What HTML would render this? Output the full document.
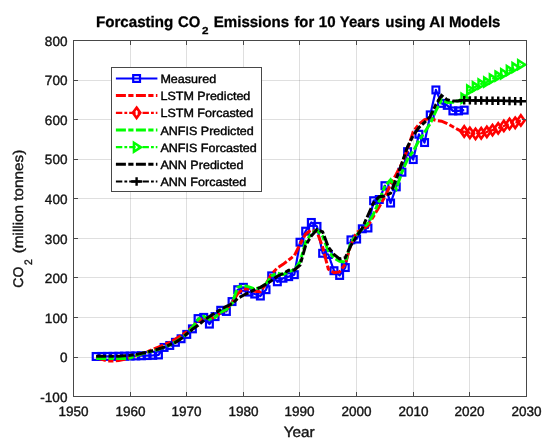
<!DOCTYPE html>
<html><head><meta charset="utf-8"><title>Forcasting CO2 Emissions</title>
<style>html,body{margin:0;padding:0;background:#fff;width:550px;height:447px;overflow:hidden}svg{display:block;filter:blur(0.4px)}text{text-rendering:geometricPrecision}</style>
</head><body>
<svg width="550" height="447" viewBox="0 0 550 447">
<defs><clipPath id="cp"><rect x="73.5" y="40.5" width="453.0" height="356.0"/></clipPath></defs>
<g stroke="#262626" stroke-opacity="0.15" stroke-width="1">
<line x1="130.5" y1="40.5" x2="130.5" y2="396.5"/>
<line x1="186.5" y1="40.5" x2="186.5" y2="396.5"/>
<line x1="243.5" y1="40.5" x2="243.5" y2="396.5"/>
<line x1="299.5" y1="40.5" x2="299.5" y2="396.5"/>
<line x1="356.5" y1="40.5" x2="356.5" y2="396.5"/>
<line x1="413.5" y1="40.5" x2="413.5" y2="396.5"/>
<line x1="469.5" y1="40.5" x2="469.5" y2="396.5"/>
<line x1="73.5" y1="357.5" x2="526.5" y2="357.5"/>
<line x1="73.5" y1="317.5" x2="526.5" y2="317.5"/>
<line x1="73.5" y1="277.5" x2="526.5" y2="277.5"/>
<line x1="73.5" y1="238.5" x2="526.5" y2="238.5"/>
<line x1="73.5" y1="198.5" x2="526.5" y2="198.5"/>
<line x1="73.5" y1="159.5" x2="526.5" y2="159.5"/>
<line x1="73.5" y1="119.5" x2="526.5" y2="119.5"/>
<line x1="73.5" y1="80.5" x2="526.5" y2="80.5"/>
</g>
<g clip-path="url(#cp)" fill="none" stroke-linejoin="round">
<polyline points="96.15,356.47 101.81,356.43 107.47,356.39 113.14,356.35 118.80,356.27 124.46,356.15 130.12,356.03 135.79,355.92 141.45,355.76 147.11,355.56 152.78,355.36 158.44,354.97 164.10,347.45 169.76,345.47 175.43,342.31 181.09,338.75 186.75,334.40 192.41,328.86 198.07,318.58 203.74,317.39 209.40,324.11 215.06,316.60 220.72,310.27 226.39,311.46 232.05,301.57 237.71,289.70 243.38,287.33 249.04,292.07 254.70,294.05 260.36,296.03 266.02,289.70 271.69,275.86 277.35,281.79 283.01,278.23 288.68,276.65 294.34,274.67 300.00,242.23 305.66,231.16 311.32,222.46 316.99,226.41 322.65,253.31 328.31,254.50 333.98,270.71 339.64,275.46 345.30,267.55 350.96,239.86 356.62,239.07 362.29,228.78 367.95,227.99 373.61,200.70 379.27,199.51 384.94,185.67 390.60,203.07 396.26,186.86 401.93,172.22 407.59,151.65 413.25,159.56 418.91,134.25 424.57,142.55 430.24,114.86 435.90,89.94 441.56,103.39 447.23,105.37 452.89,110.91 458.55,110.91 464.21,110.12" stroke="#0000ff" stroke-width="2.2"/>
</g>
<g fill="none">
<rect x="92.75" y="353.07" width="6.80" height="6.80" fill="none" stroke="#0000ff" stroke-width="2.2"/>
<rect x="98.41" y="353.03" width="6.80" height="6.80" fill="none" stroke="#0000ff" stroke-width="2.2"/>
<rect x="104.07" y="352.99" width="6.80" height="6.80" fill="none" stroke="#0000ff" stroke-width="2.2"/>
<rect x="109.74" y="352.95" width="6.80" height="6.80" fill="none" stroke="#0000ff" stroke-width="2.2"/>
<rect x="115.40" y="352.87" width="6.80" height="6.80" fill="none" stroke="#0000ff" stroke-width="2.2"/>
<rect x="121.06" y="352.75" width="6.80" height="6.80" fill="none" stroke="#0000ff" stroke-width="2.2"/>
<rect x="126.72" y="352.63" width="6.80" height="6.80" fill="none" stroke="#0000ff" stroke-width="2.2"/>
<rect x="132.39" y="352.52" width="6.80" height="6.80" fill="none" stroke="#0000ff" stroke-width="2.2"/>
<rect x="138.05" y="352.36" width="6.80" height="6.80" fill="none" stroke="#0000ff" stroke-width="2.2"/>
<rect x="143.71" y="352.16" width="6.80" height="6.80" fill="none" stroke="#0000ff" stroke-width="2.2"/>
<rect x="149.38" y="351.96" width="6.80" height="6.80" fill="none" stroke="#0000ff" stroke-width="2.2"/>
<rect x="155.04" y="351.57" width="6.80" height="6.80" fill="none" stroke="#0000ff" stroke-width="2.2"/>
<rect x="160.70" y="344.05" width="6.80" height="6.80" fill="none" stroke="#0000ff" stroke-width="2.2"/>
<rect x="166.36" y="342.07" width="6.80" height="6.80" fill="none" stroke="#0000ff" stroke-width="2.2"/>
<rect x="172.03" y="338.91" width="6.80" height="6.80" fill="none" stroke="#0000ff" stroke-width="2.2"/>
<rect x="177.69" y="335.35" width="6.80" height="6.80" fill="none" stroke="#0000ff" stroke-width="2.2"/>
<rect x="183.35" y="331.00" width="6.80" height="6.80" fill="none" stroke="#0000ff" stroke-width="2.2"/>
<rect x="189.01" y="325.46" width="6.80" height="6.80" fill="none" stroke="#0000ff" stroke-width="2.2"/>
<rect x="194.67" y="315.18" width="6.80" height="6.80" fill="none" stroke="#0000ff" stroke-width="2.2"/>
<rect x="200.34" y="313.99" width="6.80" height="6.80" fill="none" stroke="#0000ff" stroke-width="2.2"/>
<rect x="206.00" y="320.71" width="6.80" height="6.80" fill="none" stroke="#0000ff" stroke-width="2.2"/>
<rect x="211.66" y="313.20" width="6.80" height="6.80" fill="none" stroke="#0000ff" stroke-width="2.2"/>
<rect x="217.32" y="306.87" width="6.80" height="6.80" fill="none" stroke="#0000ff" stroke-width="2.2"/>
<rect x="222.99" y="308.06" width="6.80" height="6.80" fill="none" stroke="#0000ff" stroke-width="2.2"/>
<rect x="228.65" y="298.17" width="6.80" height="6.80" fill="none" stroke="#0000ff" stroke-width="2.2"/>
<rect x="234.31" y="286.30" width="6.80" height="6.80" fill="none" stroke="#0000ff" stroke-width="2.2"/>
<rect x="239.97" y="283.93" width="6.80" height="6.80" fill="none" stroke="#0000ff" stroke-width="2.2"/>
<rect x="245.64" y="288.67" width="6.80" height="6.80" fill="none" stroke="#0000ff" stroke-width="2.2"/>
<rect x="251.30" y="290.65" width="6.80" height="6.80" fill="none" stroke="#0000ff" stroke-width="2.2"/>
<rect x="256.96" y="292.63" width="6.80" height="6.80" fill="none" stroke="#0000ff" stroke-width="2.2"/>
<rect x="262.62" y="286.30" width="6.80" height="6.80" fill="none" stroke="#0000ff" stroke-width="2.2"/>
<rect x="268.29" y="272.46" width="6.80" height="6.80" fill="none" stroke="#0000ff" stroke-width="2.2"/>
<rect x="273.95" y="278.39" width="6.80" height="6.80" fill="none" stroke="#0000ff" stroke-width="2.2"/>
<rect x="279.61" y="274.83" width="6.80" height="6.80" fill="none" stroke="#0000ff" stroke-width="2.2"/>
<rect x="285.28" y="273.25" width="6.80" height="6.80" fill="none" stroke="#0000ff" stroke-width="2.2"/>
<rect x="290.94" y="271.27" width="6.80" height="6.80" fill="none" stroke="#0000ff" stroke-width="2.2"/>
<rect x="296.60" y="238.83" width="6.80" height="6.80" fill="none" stroke="#0000ff" stroke-width="2.2"/>
<rect x="302.26" y="227.76" width="6.80" height="6.80" fill="none" stroke="#0000ff" stroke-width="2.2"/>
<rect x="307.93" y="219.06" width="6.80" height="6.80" fill="none" stroke="#0000ff" stroke-width="2.2"/>
<rect x="313.59" y="223.01" width="6.80" height="6.80" fill="none" stroke="#0000ff" stroke-width="2.2"/>
<rect x="319.25" y="249.91" width="6.80" height="6.80" fill="none" stroke="#0000ff" stroke-width="2.2"/>
<rect x="324.91" y="251.10" width="6.80" height="6.80" fill="none" stroke="#0000ff" stroke-width="2.2"/>
<rect x="330.58" y="267.31" width="6.80" height="6.80" fill="none" stroke="#0000ff" stroke-width="2.2"/>
<rect x="336.24" y="272.06" width="6.80" height="6.80" fill="none" stroke="#0000ff" stroke-width="2.2"/>
<rect x="341.90" y="264.15" width="6.80" height="6.80" fill="none" stroke="#0000ff" stroke-width="2.2"/>
<rect x="347.56" y="236.46" width="6.80" height="6.80" fill="none" stroke="#0000ff" stroke-width="2.2"/>
<rect x="353.23" y="235.67" width="6.80" height="6.80" fill="none" stroke="#0000ff" stroke-width="2.2"/>
<rect x="358.89" y="225.38" width="6.80" height="6.80" fill="none" stroke="#0000ff" stroke-width="2.2"/>
<rect x="364.55" y="224.59" width="6.80" height="6.80" fill="none" stroke="#0000ff" stroke-width="2.2"/>
<rect x="370.21" y="197.30" width="6.80" height="6.80" fill="none" stroke="#0000ff" stroke-width="2.2"/>
<rect x="375.88" y="196.11" width="6.80" height="6.80" fill="none" stroke="#0000ff" stroke-width="2.2"/>
<rect x="381.54" y="182.27" width="6.80" height="6.80" fill="none" stroke="#0000ff" stroke-width="2.2"/>
<rect x="387.20" y="199.67" width="6.80" height="6.80" fill="none" stroke="#0000ff" stroke-width="2.2"/>
<rect x="392.86" y="183.46" width="6.80" height="6.80" fill="none" stroke="#0000ff" stroke-width="2.2"/>
<rect x="398.53" y="168.82" width="6.80" height="6.80" fill="none" stroke="#0000ff" stroke-width="2.2"/>
<rect x="404.19" y="148.25" width="6.80" height="6.80" fill="none" stroke="#0000ff" stroke-width="2.2"/>
<rect x="409.85" y="156.16" width="6.80" height="6.80" fill="none" stroke="#0000ff" stroke-width="2.2"/>
<rect x="415.51" y="130.85" width="6.80" height="6.80" fill="none" stroke="#0000ff" stroke-width="2.2"/>
<rect x="421.18" y="139.15" width="6.80" height="6.80" fill="none" stroke="#0000ff" stroke-width="2.2"/>
<rect x="426.84" y="111.46" width="6.80" height="6.80" fill="none" stroke="#0000ff" stroke-width="2.2"/>
<rect x="432.50" y="86.54" width="6.80" height="6.80" fill="none" stroke="#0000ff" stroke-width="2.2"/>
<rect x="438.16" y="99.99" width="6.80" height="6.80" fill="none" stroke="#0000ff" stroke-width="2.2"/>
<rect x="443.83" y="101.97" width="6.80" height="6.80" fill="none" stroke="#0000ff" stroke-width="2.2"/>
<rect x="449.49" y="107.51" width="6.80" height="6.80" fill="none" stroke="#0000ff" stroke-width="2.2"/>
<rect x="455.15" y="107.51" width="6.80" height="6.80" fill="none" stroke="#0000ff" stroke-width="2.2"/>
<rect x="460.81" y="106.72" width="6.80" height="6.80" fill="none" stroke="#0000ff" stroke-width="2.2"/>
</g>
<g clip-path="url(#cp)" fill="none">
<polyline points="96.15,358.13 101.81,359.32 107.47,360.90 113.14,360.90 118.80,360.50 124.46,359.32 130.12,357.34 135.79,355.76 141.45,353.78 147.11,351.80 152.78,349.43 158.44,347.06 164.10,344.68 169.76,342.31 175.43,339.14 181.09,335.58 186.75,331.63 192.41,326.88 198.07,321.34 203.74,317.39 209.40,318.58 215.06,317.39 220.72,312.64 226.39,309.48 232.05,302.75 237.71,293.66 243.38,288.91 249.04,288.91 254.70,291.28 260.36,291.68 266.02,283.77 271.69,273.88 277.35,267.94 283.01,264.38 288.68,260.03 294.34,255.68 300.00,244.21 305.66,233.93 311.32,229.97 316.99,231.95 322.65,246.98 328.31,269.13 333.98,272.69 339.64,271.90 345.30,263.99 350.96,244.21 356.62,232.34 362.29,229.58 367.95,225.62 373.61,216.13 379.27,206.63 384.94,196.74 390.60,184.48 396.26,174.20 401.93,163.12 407.59,149.28 413.25,131.48 418.91,124.36 424.57,119.61 430.24,118.82 435.90,120.40 441.56,121.19 447.23,123.57 452.89,126.73 458.55,129.90 464.21,132.27" stroke="#ff0000" stroke-width="3.0" stroke-dasharray="10 2.4 5.2 2.4"/>
<polyline points="464.21,131.48 469.88,132.82 475.54,133.85 481.20,133.26 486.86,131.87 492.52,130.09 498.19,128.31 503.85,125.94 509.51,123.96 515.17,122.78 520.84,120.40" stroke="#ff0000" stroke-width="2.2" stroke-dasharray="6.4 2.1 2.8 2.0"/>
</g>
<polygon points="464.21,126.31 467.91,131.48 464.21,136.65 460.51,131.48" fill="none" stroke="#ff0000" stroke-width="2.6" stroke-linejoin="miter" stroke-miterlimit="10"/>
<polygon points="469.88,127.66 473.58,132.82 469.88,137.99 466.17,132.82" fill="none" stroke="#ff0000" stroke-width="2.6" stroke-linejoin="miter" stroke-miterlimit="10"/>
<polygon points="475.54,128.68 479.24,133.85 475.54,139.02 471.84,133.85" fill="none" stroke="#ff0000" stroke-width="2.6" stroke-linejoin="miter" stroke-miterlimit="10"/>
<polygon points="481.20,128.09 484.90,133.26 481.20,138.43 477.50,133.26" fill="none" stroke="#ff0000" stroke-width="2.6" stroke-linejoin="miter" stroke-miterlimit="10"/>
<polygon points="486.86,126.71 490.56,131.87 486.86,137.04 483.16,131.87" fill="none" stroke="#ff0000" stroke-width="2.6" stroke-linejoin="miter" stroke-miterlimit="10"/>
<polygon points="492.52,124.93 496.23,130.09 492.52,135.26 488.82,130.09" fill="none" stroke="#ff0000" stroke-width="2.6" stroke-linejoin="miter" stroke-miterlimit="10"/>
<polygon points="498.19,123.15 501.89,128.31 498.19,133.48 494.49,128.31" fill="none" stroke="#ff0000" stroke-width="2.6" stroke-linejoin="miter" stroke-miterlimit="10"/>
<polygon points="503.85,120.77 507.55,125.94 503.85,131.11 500.15,125.94" fill="none" stroke="#ff0000" stroke-width="2.6" stroke-linejoin="miter" stroke-miterlimit="10"/>
<polygon points="509.51,118.79 513.21,123.96 509.51,129.13 505.81,123.96" fill="none" stroke="#ff0000" stroke-width="2.6" stroke-linejoin="miter" stroke-miterlimit="10"/>
<polygon points="515.17,117.61 518.88,122.78 515.17,127.94 511.47,122.78" fill="none" stroke="#ff0000" stroke-width="2.6" stroke-linejoin="miter" stroke-miterlimit="10"/>
<polygon points="520.84,115.23 524.54,120.40 520.84,125.57 517.14,120.40" fill="none" stroke="#ff0000" stroke-width="2.6" stroke-linejoin="miter" stroke-miterlimit="10"/>
<g clip-path="url(#cp)" fill="none">
<polyline points="96.15,358.53 101.81,358.53 107.47,358.53 113.14,358.53 118.80,358.53 124.46,358.53 130.12,358.13 135.79,355.76 141.45,353.78 147.11,352.20 152.78,351.01 158.44,349.43 164.10,347.06 169.76,345.08 175.43,341.91 181.09,338.35 186.75,334.00 192.41,327.28 198.07,319.37 203.74,316.20 209.40,319.37 215.06,317.39 220.72,312.25 226.39,309.48 232.05,303.54 237.71,287.33 243.38,285.35 249.04,286.93 254.70,288.91 260.36,287.72 266.02,283.77 271.69,275.86 277.35,273.09 283.01,274.67 288.68,271.90 294.34,269.53 300.00,262.01 305.66,242.23 311.32,233.53 316.99,229.97 322.65,236.30 328.31,250.94 333.98,258.06 339.64,261.22 345.30,262.01 350.96,242.23 356.62,235.11 362.29,228.78 367.95,223.25 373.61,213.75 379.27,200.70 384.94,186.06 390.60,179.74 396.26,188.83 401.93,172.22 407.59,159.17 413.25,151.26 418.91,140.58 424.57,132.27 430.24,123.57 435.90,110.91 441.56,99.83 447.23,102.60 452.89,102.21 458.55,100.62 464.21,98.25" stroke="#00ff00" stroke-width="3.0" stroke-dasharray="10 2.4 5.2 2.4"/>
<polyline points="464.21,98.25 469.88,89.94 475.54,86.78 481.20,84.01 486.86,82.03 492.52,78.87 498.19,76.10 503.85,73.73 509.51,70.56 515.17,67.52 520.84,64.63" stroke="#00ff00" stroke-width="2.2" stroke-dasharray="6.4 2.1 2.8 2.0"/>
</g>
<polygon points="461.54,93.82 468.55,98.25 461.54,102.68" fill="none" stroke="#00ff00" stroke-width="2.5" stroke-linejoin="miter" stroke-miterlimit="10"/>
<polygon points="467.20,85.51 474.21,89.94 467.20,94.38" fill="none" stroke="#00ff00" stroke-width="2.5" stroke-linejoin="miter" stroke-miterlimit="10"/>
<polygon points="472.87,82.35 479.88,86.78 472.87,91.21" fill="none" stroke="#00ff00" stroke-width="2.5" stroke-linejoin="miter" stroke-miterlimit="10"/>
<polygon points="478.53,79.58 485.54,84.01 478.53,88.44" fill="none" stroke="#00ff00" stroke-width="2.5" stroke-linejoin="miter" stroke-miterlimit="10"/>
<polygon points="484.19,77.60 491.20,82.03 484.19,86.46" fill="none" stroke="#00ff00" stroke-width="2.5" stroke-linejoin="miter" stroke-miterlimit="10"/>
<polygon points="489.85,74.44 496.86,78.87 489.85,83.30" fill="none" stroke="#00ff00" stroke-width="2.5" stroke-linejoin="miter" stroke-miterlimit="10"/>
<polygon points="495.52,71.67 502.53,76.10 495.52,80.53" fill="none" stroke="#00ff00" stroke-width="2.5" stroke-linejoin="miter" stroke-miterlimit="10"/>
<polygon points="501.18,69.30 508.19,73.73 501.18,78.16" fill="none" stroke="#00ff00" stroke-width="2.5" stroke-linejoin="miter" stroke-miterlimit="10"/>
<polygon points="506.84,66.13 513.85,70.56 506.84,74.99" fill="none" stroke="#00ff00" stroke-width="2.5" stroke-linejoin="miter" stroke-miterlimit="10"/>
<polygon points="512.50,63.09 519.51,67.52 512.50,71.95" fill="none" stroke="#00ff00" stroke-width="2.5" stroke-linejoin="miter" stroke-miterlimit="10"/>
<polygon points="518.17,60.20 525.18,64.63 518.17,69.06" fill="none" stroke="#00ff00" stroke-width="2.5" stroke-linejoin="miter" stroke-miterlimit="10"/>
<g clip-path="url(#cp)" fill="none">
<polyline points="96.15,356.15 101.81,356.15 107.47,356.15 113.14,356.15 118.80,356.15 124.46,355.76 130.12,355.36 135.79,354.57 141.45,353.38 147.11,352.20 152.78,350.62 158.44,349.03 164.10,347.06 169.76,344.68 175.43,342.31 181.09,338.75 186.75,334.00 192.41,329.26 198.07,325.30 203.74,320.55 209.40,316.60 215.06,313.04 220.72,309.48 226.39,306.31 232.05,303.94 237.71,298.40 243.38,295.24 249.04,292.47 254.70,289.70 260.36,287.33 266.02,284.16 271.69,280.60 277.35,276.25 283.01,273.48 288.68,270.32 294.34,269.92 300.00,265.18 305.66,245.40 311.32,235.90 316.99,229.58 322.65,231.95 328.31,246.98 333.98,254.50 339.64,258.85 345.30,257.66 350.96,245.40 356.62,236.30 362.29,227.99 367.95,215.34 373.61,202.68 379.27,196.74 384.94,195.95 390.60,193.18 396.26,178.94 401.93,163.12 407.59,146.51 413.25,135.43 418.91,127.52 424.57,122.38 430.24,116.45 435.90,104.58 441.56,95.48 447.23,99.83 452.89,101.02 458.55,101.02 464.21,100.23" stroke="#000000" stroke-width="3.0" stroke-dasharray="10 2.4 5.2 2.4"/>
<polyline points="464.21,100.23 469.88,100.33 475.54,100.43 481.20,100.53 486.86,100.62 492.52,100.72 498.19,100.82 503.85,100.92 509.51,101.02 515.17,101.12 520.84,101.22" stroke="#000000" stroke-width="2.2" stroke-dasharray="6.4 2.1 2.8 2.0"/>
</g>
<path d="M458.81 100.23H469.61M464.21 96.03V104.43" stroke="#000000" stroke-width="2.4" fill="none"/>
<path d="M464.48 100.33H475.27M469.88 96.13V104.53" stroke="#000000" stroke-width="2.4" fill="none"/>
<path d="M470.14 100.43H480.94M475.54 96.23V104.63" stroke="#000000" stroke-width="2.4" fill="none"/>
<path d="M475.80 100.53H486.60M481.20 96.33V104.73" stroke="#000000" stroke-width="2.4" fill="none"/>
<path d="M481.46 100.62H492.26M486.86 96.42V104.82" stroke="#000000" stroke-width="2.4" fill="none"/>
<path d="M487.12 100.72H497.92M492.52 96.52V104.92" stroke="#000000" stroke-width="2.4" fill="none"/>
<path d="M492.79 100.82H503.59M498.19 96.62V105.02" stroke="#000000" stroke-width="2.4" fill="none"/>
<path d="M498.45 100.92H509.25M503.85 96.72V105.12" stroke="#000000" stroke-width="2.4" fill="none"/>
<path d="M504.11 101.02H514.91M509.51 96.82V105.22" stroke="#000000" stroke-width="2.4" fill="none"/>
<path d="M509.77 101.12H520.57M515.17 96.92V105.32" stroke="#000000" stroke-width="2.4" fill="none"/>
<path d="M515.44 101.22H526.24M520.84 97.02V105.42" stroke="#000000" stroke-width="2.4" fill="none"/>
<g stroke="#484848" stroke-width="1" fill="none">
<rect x="73.5" y="40.5" width="453.0" height="356.0"/>
<line x1="130.5" y1="396.5" x2="130.5" y2="392.0"/>
<line x1="130.5" y1="40.5" x2="130.5" y2="45.0"/>
<line x1="186.5" y1="396.5" x2="186.5" y2="392.0"/>
<line x1="186.5" y1="40.5" x2="186.5" y2="45.0"/>
<line x1="243.5" y1="396.5" x2="243.5" y2="392.0"/>
<line x1="243.5" y1="40.5" x2="243.5" y2="45.0"/>
<line x1="299.5" y1="396.5" x2="299.5" y2="392.0"/>
<line x1="299.5" y1="40.5" x2="299.5" y2="45.0"/>
<line x1="356.5" y1="396.5" x2="356.5" y2="392.0"/>
<line x1="356.5" y1="40.5" x2="356.5" y2="45.0"/>
<line x1="413.5" y1="396.5" x2="413.5" y2="392.0"/>
<line x1="413.5" y1="40.5" x2="413.5" y2="45.0"/>
<line x1="469.5" y1="396.5" x2="469.5" y2="392.0"/>
<line x1="469.5" y1="40.5" x2="469.5" y2="45.0"/>
<line x1="73.5" y1="357.5" x2="78.0" y2="357.5"/>
<line x1="526.5" y1="357.5" x2="522.0" y2="357.5"/>
<line x1="73.5" y1="317.5" x2="78.0" y2="317.5"/>
<line x1="526.5" y1="317.5" x2="522.0" y2="317.5"/>
<line x1="73.5" y1="277.5" x2="78.0" y2="277.5"/>
<line x1="526.5" y1="277.5" x2="522.0" y2="277.5"/>
<line x1="73.5" y1="238.5" x2="78.0" y2="238.5"/>
<line x1="526.5" y1="238.5" x2="522.0" y2="238.5"/>
<line x1="73.5" y1="198.5" x2="78.0" y2="198.5"/>
<line x1="526.5" y1="198.5" x2="522.0" y2="198.5"/>
<line x1="73.5" y1="159.5" x2="78.0" y2="159.5"/>
<line x1="526.5" y1="159.5" x2="522.0" y2="159.5"/>
<line x1="73.5" y1="119.5" x2="78.0" y2="119.5"/>
<line x1="526.5" y1="119.5" x2="522.0" y2="119.5"/>
<line x1="73.5" y1="80.5" x2="78.0" y2="80.5"/>
<line x1="526.5" y1="80.5" x2="522.0" y2="80.5"/>
</g>
<text transform="translate(73.50,416.10) scale(1.000,1)" font-family="Liberation Sans, Arial, sans-serif" font-size="13.50" text-anchor="middle" fill="#141414" stroke="#141414" stroke-width="0.40">1950</text>
<text transform="translate(130.50,416.10) scale(1.000,1)" font-family="Liberation Sans, Arial, sans-serif" font-size="13.50" text-anchor="middle" fill="#141414" stroke="#141414" stroke-width="0.40">1960</text>
<text transform="translate(186.50,416.10) scale(1.000,1)" font-family="Liberation Sans, Arial, sans-serif" font-size="13.50" text-anchor="middle" fill="#141414" stroke="#141414" stroke-width="0.40">1970</text>
<text transform="translate(243.50,416.10) scale(1.000,1)" font-family="Liberation Sans, Arial, sans-serif" font-size="13.50" text-anchor="middle" fill="#141414" stroke="#141414" stroke-width="0.40">1980</text>
<text transform="translate(299.50,416.10) scale(1.000,1)" font-family="Liberation Sans, Arial, sans-serif" font-size="13.50" text-anchor="middle" fill="#141414" stroke="#141414" stroke-width="0.40">1990</text>
<text transform="translate(356.50,416.10) scale(1.000,1)" font-family="Liberation Sans, Arial, sans-serif" font-size="13.50" text-anchor="middle" fill="#141414" stroke="#141414" stroke-width="0.40">2000</text>
<text transform="translate(413.50,416.10) scale(1.000,1)" font-family="Liberation Sans, Arial, sans-serif" font-size="13.50" text-anchor="middle" fill="#141414" stroke="#141414" stroke-width="0.40">2010</text>
<text transform="translate(469.50,416.10) scale(1.000,1)" font-family="Liberation Sans, Arial, sans-serif" font-size="13.50" text-anchor="middle" fill="#141414" stroke="#141414" stroke-width="0.40">2020</text>
<text transform="translate(526.50,416.10) scale(1.000,1)" font-family="Liberation Sans, Arial, sans-serif" font-size="13.50" text-anchor="middle" fill="#141414" stroke="#141414" stroke-width="0.40">2030</text>
<text transform="translate(67.40,401.80) scale(1.000,1)" font-family="Liberation Sans, Arial, sans-serif" font-size="13.50" text-anchor="end" fill="#141414" stroke="#141414" stroke-width="0.40">-100</text>
<text transform="translate(67.40,362.24) scale(1.000,1)" font-family="Liberation Sans, Arial, sans-serif" font-size="13.50" text-anchor="end" fill="#141414" stroke="#141414" stroke-width="0.40">0</text>
<text transform="translate(67.40,322.69) scale(1.000,1)" font-family="Liberation Sans, Arial, sans-serif" font-size="13.50" text-anchor="end" fill="#141414" stroke="#141414" stroke-width="0.40">100</text>
<text transform="translate(67.40,283.13) scale(1.000,1)" font-family="Liberation Sans, Arial, sans-serif" font-size="13.50" text-anchor="end" fill="#141414" stroke="#141414" stroke-width="0.40">200</text>
<text transform="translate(67.40,243.58) scale(1.000,1)" font-family="Liberation Sans, Arial, sans-serif" font-size="13.50" text-anchor="end" fill="#141414" stroke="#141414" stroke-width="0.40">300</text>
<text transform="translate(67.40,204.02) scale(1.000,1)" font-family="Liberation Sans, Arial, sans-serif" font-size="13.50" text-anchor="end" fill="#141414" stroke="#141414" stroke-width="0.40">400</text>
<text transform="translate(67.40,164.47) scale(1.000,1)" font-family="Liberation Sans, Arial, sans-serif" font-size="13.50" text-anchor="end" fill="#141414" stroke="#141414" stroke-width="0.40">500</text>
<text transform="translate(67.40,124.91) scale(1.000,1)" font-family="Liberation Sans, Arial, sans-serif" font-size="13.50" text-anchor="end" fill="#141414" stroke="#141414" stroke-width="0.40">600</text>
<text transform="translate(67.40,85.36) scale(1.000,1)" font-family="Liberation Sans, Arial, sans-serif" font-size="13.50" text-anchor="end" fill="#141414" stroke="#141414" stroke-width="0.40">700</text>
<text transform="translate(67.40,45.80) scale(1.000,1)" font-family="Liberation Sans, Arial, sans-serif" font-size="13.50" text-anchor="end" fill="#141414" stroke="#141414" stroke-width="0.40">800</text>
<text transform="translate(299.20,436.60) scale(1.035,1)" font-family="Liberation Sans, Arial, sans-serif" font-size="14.80" text-anchor="middle" fill="#141414" stroke="#141414" stroke-width="0.40">Year</text>
<g transform="translate(0,0) rotate(-90)">
<text transform="translate(-287.65,23.40) scale(0.995,1)" font-family="Liberation Sans, Arial, sans-serif" font-size="14.00" fill="#141414" stroke="#141414" stroke-width="0.40">CO</text>
<text transform="translate(-265.07,31.60) scale(0.956,1)" font-family="Liberation Sans, Arial, sans-serif" font-size="10.80" fill="#141414" stroke="#141414" stroke-width="0.40">2</text>
<text transform="translate(-253.27,23.40) scale(1.091,1)" font-family="Liberation Sans, Arial, sans-serif" font-size="14.00" fill="#141414" stroke="#141414" stroke-width="0.40">(million tonnes)</text>
</g>
<text transform="translate(95.97,26.50) scale(0.988,1)" font-family="Liberation Sans, Arial, sans-serif" font-size="15.30" font-weight="bold" fill="#000" stroke="#000" stroke-width="0.30">Forcasting</text>
<text transform="translate(177.96,26.50) scale(0.970,1)" font-family="Liberation Sans, Arial, sans-serif" font-size="15.30" font-weight="bold" fill="#000" stroke="#000" stroke-width="0.30">CO</text>
<text transform="translate(213.77,26.50) scale(0.984,1)" font-family="Liberation Sans, Arial, sans-serif" font-size="15.30" font-weight="bold" fill="#000" stroke="#000" stroke-width="0.30">Emissions</text>
<text transform="translate(294.43,26.50) scale(0.967,1)" font-family="Liberation Sans, Arial, sans-serif" font-size="15.30" font-weight="bold" fill="#000" stroke="#000" stroke-width="0.30">for</text>
<text transform="translate(318.87,26.50) scale(0.982,1)" font-family="Liberation Sans, Arial, sans-serif" font-size="15.30" font-weight="bold" fill="#000" stroke="#000" stroke-width="0.30">10</text>
<text transform="translate(339.75,26.50) scale(0.979,1)" font-family="Liberation Sans, Arial, sans-serif" font-size="15.30" font-weight="bold" fill="#000" stroke="#000" stroke-width="0.30">Years</text>
<text transform="translate(385.25,26.50) scale(0.983,1)" font-family="Liberation Sans, Arial, sans-serif" font-size="15.30" font-weight="bold" fill="#000" stroke="#000" stroke-width="0.30">using</text>
<text transform="translate(429.36,26.50) scale(1.011,1)" font-family="Liberation Sans, Arial, sans-serif" font-size="15.30" font-weight="bold" fill="#000" stroke="#000" stroke-width="0.30">AI</text>
<text transform="translate(448.88,26.50) scale(0.978,1)" font-family="Liberation Sans, Arial, sans-serif" font-size="15.30" font-weight="bold" fill="#000" stroke="#000" stroke-width="0.30">Models</text>
<text transform="translate(202.04,34.00) scale(1.167,1)" font-family="Liberation Sans, Arial, sans-serif" font-size="10.00" font-weight="bold" fill="#000" stroke="#000" stroke-width="0.30">2</text>
<rect x="111.5" y="67.5" width="150.0" height="124.0" fill="#fff" stroke="#484848" stroke-width="1"/>
<line x1="115.9" y1="78.5" x2="157.4" y2="78.5" stroke="#0000ff" stroke-width="2.2"/>
<rect x="133.20" y="75.10" width="6.80" height="6.80" fill="none" stroke="#0000ff" stroke-width="2.2"/>
<text transform="translate(160.40,83.00) scale(1.055,1)" font-family="Liberation Sans, Arial, sans-serif" font-size="11.90" fill="#000" stroke="#000" stroke-width="0.40">Measured</text>
<line x1="115.9" y1="95.6" x2="157.4" y2="95.6" stroke="#ff0000" stroke-width="3.0" stroke-dasharray="10 2.4 5.2 2.4"/>
<text transform="translate(160.40,100.10) scale(1.055,1)" font-family="Liberation Sans, Arial, sans-serif" font-size="11.90" fill="#000" stroke="#000" stroke-width="0.40">LSTM Predicted</text>
<line x1="115.9" y1="112.8" x2="157.4" y2="112.8" stroke="#ff0000" stroke-width="2.2" stroke-dasharray="6.4 2.1 2.8 2.0"/>
<polygon points="136.60,107.63 140.30,112.80 136.60,117.97 132.90,112.80" fill="none" stroke="#ff0000" stroke-width="2.6" stroke-linejoin="miter" stroke-miterlimit="10"/>
<text transform="translate(160.40,117.30) scale(1.055,1)" font-family="Liberation Sans, Arial, sans-serif" font-size="11.90" fill="#000" stroke="#000" stroke-width="0.40">LSTM Forcasted</text>
<line x1="115.9" y1="130.0" x2="157.4" y2="130.0" stroke="#00ff00" stroke-width="3.0" stroke-dasharray="10 2.4 5.2 2.4"/>
<text transform="translate(160.40,134.50) scale(1.055,1)" font-family="Liberation Sans, Arial, sans-serif" font-size="11.90" fill="#000" stroke="#000" stroke-width="0.40">ANFIS Predicted</text>
<line x1="115.9" y1="147.2" x2="157.4" y2="147.2" stroke="#00ff00" stroke-width="2.2" stroke-dasharray="6.4 2.1 2.8 2.0"/>
<polygon points="133.93,142.77 140.94,147.20 133.93,151.63" fill="none" stroke="#00ff00" stroke-width="2.5" stroke-linejoin="miter" stroke-miterlimit="10"/>
<text transform="translate(160.40,151.70) scale(1.055,1)" font-family="Liberation Sans, Arial, sans-serif" font-size="11.90" fill="#000" stroke="#000" stroke-width="0.40">ANFIS Forcasted</text>
<line x1="115.9" y1="164.2" x2="157.4" y2="164.2" stroke="#000000" stroke-width="3.0" stroke-dasharray="10 2.4 5.2 2.4"/>
<text transform="translate(160.40,168.70) scale(1.055,1)" font-family="Liberation Sans, Arial, sans-serif" font-size="11.90" fill="#000" stroke="#000" stroke-width="0.40">ANN Predicted</text>
<line x1="115.9" y1="181.5" x2="157.4" y2="181.5" stroke="#000000" stroke-width="2.2" stroke-dasharray="6.4 2.1 2.8 2.0"/>
<path d="M131.20 181.50H142.00M136.60 177.30V185.70" stroke="#000000" stroke-width="2.4" fill="none"/>
<text transform="translate(160.40,186.00) scale(1.055,1)" font-family="Liberation Sans, Arial, sans-serif" font-size="11.90" fill="#000" stroke="#000" stroke-width="0.40">ANN Forcasted</text>
</svg>
</body></html>
